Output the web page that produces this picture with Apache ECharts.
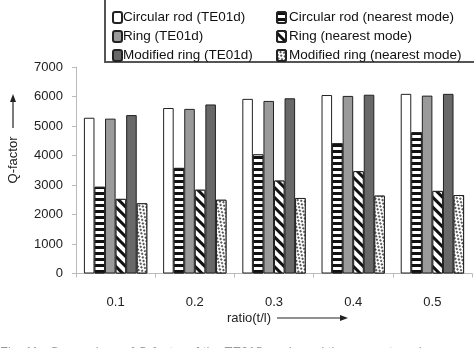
<!DOCTYPE html>
<html>
<head>
<meta charset="utf-8">
<script src="https://cdn.jsdelivr.net/npm/echarts@6/dist/echarts.min.js"></script>
<style>
  html, body { margin: 0; padding: 0; background: #fff; }
  #chart { width: 474px; height: 348px; }
</style>
</head>
<body>
<div id="chart"></div>
<script>
// Q-factor versus thickness ratio for three resonator shapes
const categories = ['0.1', '0.2', '0.3', '0.4', '0.5'];
const circularRodTE = [5280, 5610, 5920, 6050, 6090];
const circularRodNearest = [2940, 3580, 4040, 4420, 4790];
const ringTE = [5250, 5580, 5850, 6020, 6030];
const ringNearest = [2530, 2840, 3150, 3470, 2800];
const modifiedRingTE = [5370, 5730, 5940, 6060, 6090];
const modifiedRingNearest = [2380, 2500, 2560, 2640, 2660];
const yTicks = [0, 1000, 2000, 3000, 4000, 5000, 6000, 7000];

const FONT = 'Liberation Sans, Arial, sans-serif';
const border = { borderColor: '#222', borderWidth: 1 };

const hStripes = {
  symbol: 'rect', symbolSize: 1, color: '#111', backgroundColor: '#fff',
  dashArrayX: [1, 0], dashArrayY: [3, 3], rotation: 0
};
const diagStripes = {
  symbol: 'rect', symbolSize: 1, color: '#111', backgroundColor: '#fff',
  dashArrayX: [1, 0], dashArrayY: [3, 4], rotation: Math.PI / 4
};
const dots = {
  symbol: 'circle', symbolSize: 1, color: '#222', backgroundColor: '#fff',
  dashArrayX: [[2, 2], [0, 2, 2, 0]], dashArrayY: [2, 1], rotation: -Math.PI / 4
};

function bar(name, data, color, decal) {
  const s = {
    name, type: 'bar', data,
    barGap: '0%', barCategoryGap: '20%',
    itemStyle: Object.assign({ color }, border)
  };
  if (decal) s.itemStyle.decal = decal;
  return s;
}

const legendText = { fontSize: 13.5, color: '#111', fontFamily: FONT, lineHeight: 13 };

const chart = echarts.init(document.getElementById('chart'));
chart.setOption({
  animation: false,
  textStyle: { fontFamily: FONT },
  grid: { left: 76, right: 2, top: 67, bottom: 74.5 },
  legend: [
    {
      data: ['Circular rod (TE01d)', 'Ring (TE01d)', 'Modified ring (TE01d)'],
      orient: 'vertical', left: 112, top: 10.5, padding: 0,
      itemWidth: 9, itemHeight: 11, itemGap: 5,
      textStyle: Object.assign({ padding: [0, 0, 0, -4] }, legendText)
    },
    {
      data: ['Circular rod (nearest mode)', 'Ring (nearest mode)', 'Modified ring (nearest mode)'],
      orient: 'vertical', left: 276, top: 10.5, padding: 0,
      itemWidth: 9, itemHeight: 11, itemGap: 5,
      textStyle: Object.assign({ padding: [0, 0, 0, -2] }, legendText)
    }
  ],
  xAxis: {
    type: 'category', data: categories,
    axisLine: { lineStyle: { color: '#bbb', width: 1 } },
    axisTick: { show: true, length: 4, lineStyle: { color: '#bbb' } },
    axisLabel: { fontSize: 13, color: '#222', margin: 22, fontFamily: FONT }
  },
  yAxis: {
    type: 'value', min: yTicks[0], max: yTicks[yTicks.length - 1], interval: 1000,
    axisLine: { show: true, lineStyle: { color: '#bbb', width: 1 } },
    axisTick: { show: true, length: 4, lineStyle: { color: '#bbb' } },
    splitLine: { show: false },
    axisLabel: { fontSize: 13, color: '#222', margin: 13, fontFamily: FONT,
      formatter: v => String(v) }
  },
  series: [
    bar('Circular rod (TE01d)', circularRodTE, '#ffffff'),
    bar('Circular rod (nearest mode)', circularRodNearest, '#ffffff', hStripes),
    bar('Ring (TE01d)', ringTE, '#9a9a9a'),
    bar('Ring (nearest mode)', ringNearest, '#ffffff', diagStripes),
    bar('Modified ring (TE01d)', modifiedRingTE, '#686868'),
    bar('Modified ring (nearest mode)', modifiedRingNearest, '#ffffff', dots)
  ],
  graphic: [
    // legend frame
    { type: 'rect', z: 0, shape: { x: 105, y: -2, width: 380, height: 64 },
      style: { fill: '#fff', stroke: '#555', lineWidth: 2 } },
    // y-axis title with upward arrow
    { type: 'text', x: 13, y: 160, rotation: Math.PI / 2,
      style: { text: 'Q-factor', font: '13px ' + FONT, fill: '#222', align: 'center', verticalAlign: 'middle' } },
    { type: 'line', shape: { x1: 13, y1: 128, x2: 13, y2: 100 }, style: { stroke: '#222', lineWidth: 1.2 } },
    { type: 'polygon', shape: { points: [[13, 94], [10, 102], [16, 102]] }, style: { fill: '#222' } },
    // x-axis title with rightward arrow
    { type: 'text', x: 249, y: 318,
      style: { text: 'ratio(t/l)', font: '13px ' + FONT, fill: '#222', align: 'center', verticalAlign: 'middle' } },
    { type: 'line', shape: { x1: 277, y1: 318, x2: 341, y2: 318 }, style: { stroke: '#222', lineWidth: 1.2 } },
    { type: 'polygon', shape: { points: [[348, 318], [340, 315], [340, 321]] }, style: { fill: '#222' } },
    // figure caption running off the bottom edge
    { type: 'text', x: 0, y: 345.5,
      style: { text: 'Fig. 11   Comparison of Q-factor of the TE01δ mode and the nearest mode', font: '13px ' + FONT, fill: '#999', verticalAlign: 'top' } }
  ]
});
</script>
</body>
</html>
